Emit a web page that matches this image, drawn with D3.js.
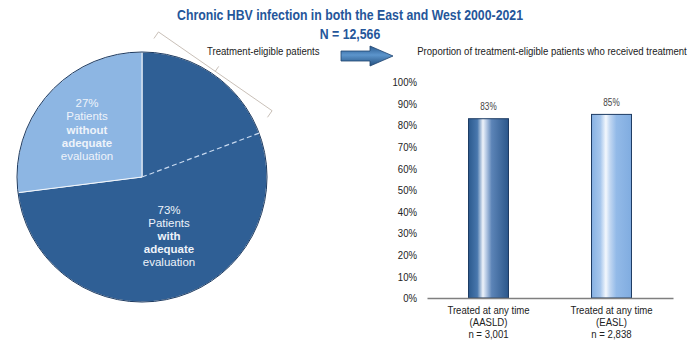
<!DOCTYPE html>
<html><head><meta charset="utf-8">
<script src="https://cdn.jsdelivr.net/npm/d3@7"></script>
<style>body{margin:0;background:#fff}svg{display:block}</style>
</head><body>
<svg id="c" width="700" height="345"></svg>
<script>
// ---- data ----
const titleLines = ["Chronic HBV infection in both the East and West 2000-2021", "N = 12,566"];
const pieCategories = ["with", "without"];
const pieValues = [73, 27];
const pieLabels = [
  ["73%", "Patients", "with", "adequate", "evaluation"],
  ["27%", "Patients", "without", "adequate", "evaluation"]
];
const eligibleShare = 19.3; // % of all patients (dashed split inside dark slice)
const barCategories = ["AASLD", "EASL"];
const barValues = [83, 85];
const barLabels = [
  ["Treated at any time", "(AASLD)", "n = 3,001"],
  ["Treated at any time", "(EASL)", "n = 2,838"]
];
const yTicks = [0, 10, 20, 30, 40, 50, 60, 70, 80, 90, 100];
const bracketText = "Treatment-eligible patients";
const rightTitle = "Proportion of treatment-eligible patients who received treatment";

// ---- drawing ----
const svg = d3.select("#c");
const SANS = "'Liberation Sans',Arial,sans-serif";
const NARROW_RATIO = 0.82;
const FS = 11.7;
// condense text horizontally around its anchor x (Arial Narrow look)
function narrow(sel) {
  sel.each(function () {
    const x = +this.getAttribute("x") || 0;
    d3.select(this).attr("transform", `translate(${x},0) scale(${NARROW_RATIO},1) translate(${-x},0)`);
  });
  return sel;
}
const defs = svg.append("defs");

// title
svg.append("g").selectAll("text").data(titleLines).join("text")
  .attr("x", 350).attr("y", (d, i) => 20 + i * 19)
  .attr("text-anchor", "middle")
  .attr("font-family", SANS).attr("font-weight", "bold").attr("font-size", 15)
  .attr("fill", "#25569a").text(d => d).call(narrow);

// pie
const cx = 142, cy = 177, R = 125;
const pie = d3.pie().sort(null).value(d => d);
const arcs = pie(pieValues);
const arc = d3.arc().innerRadius(0).outerRadius(R);
const pieColors = ["#2f5f95", "#8db6e3"];
const gp = svg.append("g").attr("transform", `translate(${cx},${cy})`);
gp.selectAll("path").data(arcs).join("path")
  .attr("d", arc).attr("fill", (d, i) => pieColors[i])
  .attr("stroke", "#f2f6fb").attr("stroke-width", 1);
gp.append("circle").attr("r", R).attr("fill", "none").attr("stroke", "#1d3a60").attr("stroke-width", 1);

// dashed split
const angScale = d3.scaleLinear().domain([0, 100]).range([0, 2 * Math.PI]);
const aSplit = angScale(eligibleShare);
gp.append("line").attr("x1", 0).attr("y1", 0)
  .attr("x2", Math.sin(aSplit) * R).attr("y2", -Math.cos(aSplit) * R)
  .attr("stroke", "#c9daf0").attr("stroke-width", 1.2).attr("stroke-dasharray", "5,3");

// pie labels
const labelPos = [[27, 59], [-55, -47.5]];
pieLabels.forEach((lines, k) => {
  const t = gp.append("text").attr("text-anchor", "middle")
    .attr("font-family", SANS).attr("font-size", 11.5).attr("fill", "#eef3fa");
  lines.forEach((s, i) => {
    t.append("tspan").attr("x", labelPos[k][0])
      .attr("y", labelPos[k][1] + (i - 2) * 13.2 + 4)
      .attr("font-weight", (i === 2 || i === 3) ? "bold" : "normal").text(s);
  });
});

// bracket (straight brace outside the eligible arc)
const br = 146;
const a0 = angScale(1.8), a1 = angScale(17.5);
const p0 = [cx + Math.sin(a0) * br, cy - Math.cos(a0) * br];
const p1 = [cx + Math.sin(a1) * br, cy - Math.cos(a1) * br];
const dx = p1[0] - p0[0], dy = p1[1] - p0[1], L = Math.hypot(dx, dy);
const nx = -dy / L, ny = dx / L;
const hk = 8;
const mid = [(p0[0] + p1[0]) / 2, (p0[1] + p1[1]) / 2];
const bp = d3.path();
bp.moveTo(p0[0] + nx * hk, p0[1] + ny * hk); bp.lineTo(p0[0], p0[1]);
bp.lineTo(p1[0], p1[1]); bp.lineTo(p1[0] + nx * hk, p1[1] + ny * hk);
bp.moveTo(mid[0], mid[1]); bp.lineTo(mid[0] - nx * 6, mid[1] - ny * 6);
svg.append("path").attr("d", bp.toString()).attr("fill", "none")
  .attr("stroke", "#c9c0b8").attr("stroke-width", 1);

svg.append("text").attr("x", 207).attr("y", 55.5)
  .attr("font-family", SANS).attr("font-size", FS).attr("fill", "#222").text(bracketText).call(narrow);

// arrow
const ag = defs.append("linearGradient").attr("id", "arrowG").attr("x1", 0).attr("y1", 0).attr("x2", 0).attr("y2", 1);
ag.append("stop").attr("offset", "0%").attr("stop-color", "#2a5b90");
ag.append("stop").attr("offset", "45%").attr("stop-color", "#5c95cc");
ag.append("stop").attr("offset", "100%").attr("stop-color", "#24507f");
const ax0 = 341, ay = 56;
svg.append("path")
  .attr("d", `M${ax0},${ay - 5}H370V${ay - 10}L393,${ay}L370,${ay + 10}V${ay + 5}H${ax0}Z`)
  .attr("fill", "url(#arrowG)").attr("stroke", "#1f4470").attr("stroke-width", 0.8);

svg.append("text").attr("x", 552).attr("y", 55.5).attr("text-anchor", "middle")
  .attr("font-family", SANS).attr("font-size", FS).attr("fill", "#222").text(rightTitle).call(narrow);

// bar chart
const x = d3.scaleBand().domain(barCategories).range([427, 673]).paddingInner(0.675).paddingOuter(0.3375);
const y = d3.scaleLinear().domain([0, 100]).range([298, 82]);

const gradDefs = [
  {id: "barG0", stops: [[0, "#2c5a8e"], [0.22, "#4877ad"], [0.36, "#eef3fa"], [0.44, "#b9cce6"], [0.58, "#5c84b7"], [1, "#2b578b"]]},
  {id: "barG1", stops: [[0, "#86b1e3"], [0.22, "#a6c6ec"], [0.36, "#f4f8fd"], [0.46, "#c3d8f2"], [0.62, "#93bae8"], [1, "#80ace0"]]}
];
gradDefs.forEach(g => {
  const lg = defs.append("linearGradient").attr("id", g.id).attr("x1", 0).attr("x2", 1).attr("y1", 0).attr("y2", 0);
  g.stops.forEach(s => lg.append("stop").attr("offset", s[0]).attr("stop-color", s[1]));
});

const yAxis = svg.append("g").attr("transform", "translate(417,0)")
  .call(d3.axisLeft(y).tickValues(yTicks).tickFormat(d => d + "%").tickSize(0).tickPadding(0));
yAxis.select(".domain").remove();
yAxis.selectAll("text").attr("font-family", SANS).attr("font-size", FS).attr("fill", "#222").call(narrow);

svg.append("g").selectAll("rect").data(barValues).join("rect")
  .attr("x", (d, i) => x(barCategories[i])).attr("width", x.bandwidth())
  .attr("y", d => y(d)).attr("height", d => y(0) - y(d))
  .attr("fill", (d, i) => `url(#barG${i})`).attr("stroke", "#1d3b63").attr("stroke-width", 1);

svg.append("g").selectAll("text").data(barValues).join("text")
  .attr("x", (d, i) => x(barCategories[i]) + x.bandwidth() / 2)
  .attr("y", d => y(d) - 8.5).attr("text-anchor", "middle")
  .attr("font-family", SANS).attr("font-size", 10).attr("fill", "#444")
  .text(d => d + "%").call(narrow);

const xAxis = svg.append("g").attr("transform", `translate(0,${y(0)})`)
  .call(d3.axisBottom(x).tickSize(0).tickFormat(""));
xAxis.select(".domain").attr("stroke", "#7f7f7f").attr("stroke-width", 1.5);

barCategories.forEach((c, i) => {
  svg.append("g").selectAll("text").data(barLabels[i]).join("text")
    .attr("x", x(c) + x.bandwidth() / 2).attr("y", (s, j) => 314.5 + j * 11.8)
    .attr("text-anchor", "middle")
    .attr("font-family", SANS).attr("font-size", FS).attr("fill", "#222")
    .text(s => s).call(narrow);
});
</script>
</body></html>
